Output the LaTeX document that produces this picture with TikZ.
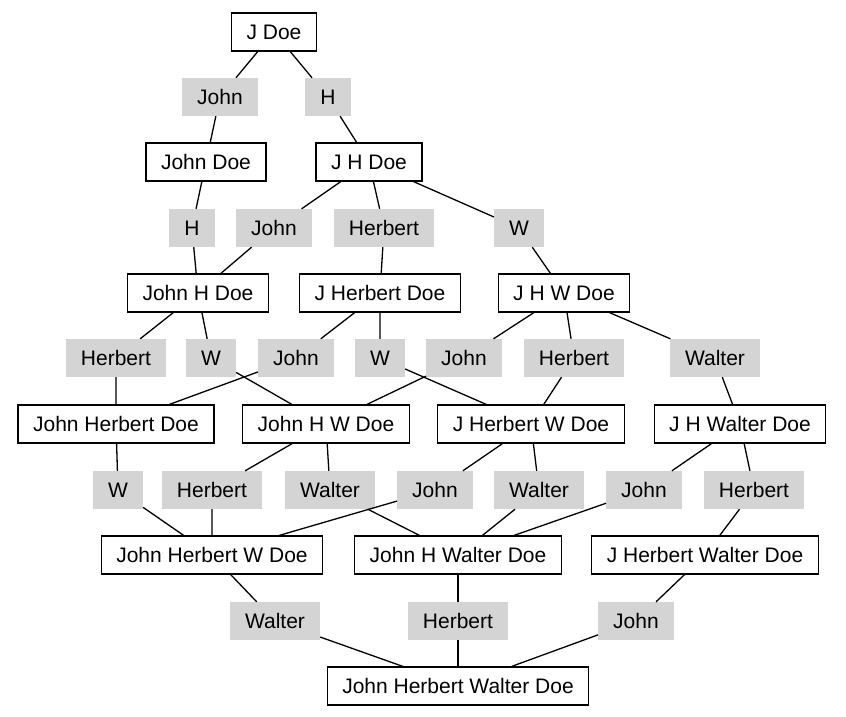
\documentclass[tikz,border=0pt]{standalone}
\usepackage{fontspec}
\setmainfont{Liberation Sans}
\begin{document}
\begin{tikzpicture}[x=1pt,y=-1pt,
  box/.style={draw=black,line width=1.3pt,fill=white,minimum height=38pt,inner xsep=15pt,font=\fontsize{21}{24}\selectfont},
  lbl/.style={fill=black!17,minimum height=38pt,inner xsep=15pt,font=\fontsize{21}{24}\selectfont},
  e/.style={line width=1.3pt}]
\useasboundingbox (0,0) rectangle (846,717);
\node[box] (A) at (274,32) {J Doe};
\node[box] (B) at (206,162) {John Doe};
\node[box] (C) at (369,162) {J H Doe};
\node[box] (D) at (198,293) {John H Doe};
\node[box] (E) at (380,293) {J Herbert Doe};
\node[box] (F) at (564,293) {J H W Doe};
\node[box] (G) at (116,424) {John Herbert Doe};
\node[box] (H) at (326,424) {John H W Doe};
\node[box] (I) at (531,424) {J Herbert W Doe};
\node[box] (J) at (740,424) {J H Walter Doe};
\node[box] (K) at (212,555) {John Herbert W Doe};
\node[box] (L) at (458,555) {John H Walter Doe};
\node[box] (M) at (705,555) {J Herbert Walter Doe};
\node[box] (N) at (458,686) {John Herbert Walter Doe};
\node[lbl] (ab) at (220,97) {John};
\node[lbl] (ac) at (328,97) {H};
\node[lbl] (bd) at (192,228) {H};
\node[lbl] (cd) at (274,228) {John};
\node[lbl] (ce) at (384,228) {Herbert};
\node[lbl] (cf) at (519,228) {W};
\node[lbl] (dg) at (116,358) {Herbert};
\node[lbl] (dh) at (211,358) {W};
\node[lbl] (eg) at (296,358) {John};
\node[lbl] (ei) at (380,358) {W};
\node[lbl] (fh) at (464,358) {John};
\node[lbl] (fi) at (574,358) {Herbert};
\node[lbl] (fj) at (715,358) {Walter};
\node[lbl] (gk) at (118,490) {W};
\node[lbl] (hk) at (212,490) {Herbert};
\node[lbl] (hl) at (330,490) {Walter};
\node[lbl] (ik) at (435,490) {John};
\node[lbl] (il) at (539,490) {Walter};
\node[lbl] (jl) at (644,490) {John};
\node[lbl] (jm) at (754,490) {Herbert};
\node[lbl] (kn) at (275,621) {Walter};
\node[lbl] (ln) at (458,621) {Herbert};
\node[lbl] (mn) at (636,621) {John};
\foreach \s/\l/\t in {A/ab/B,A/ac/C,B/bd/D,C/cd/D,C/ce/E,C/cf/F,D/dg/G,D/dh/H,E/eg/G,E/ei/I,F/fh/H,F/fi/I,F/fj/J,G/gk/K,H/hk/K,H/hl/L,I/ik/K,I/il/L,J/jl/L,J/jm/M,K/kn/N,L/ln/N,M/mn/N}
  \draw[e] (\s) -- (\l) -- (\t);
\end{tikzpicture}
\end{document}
